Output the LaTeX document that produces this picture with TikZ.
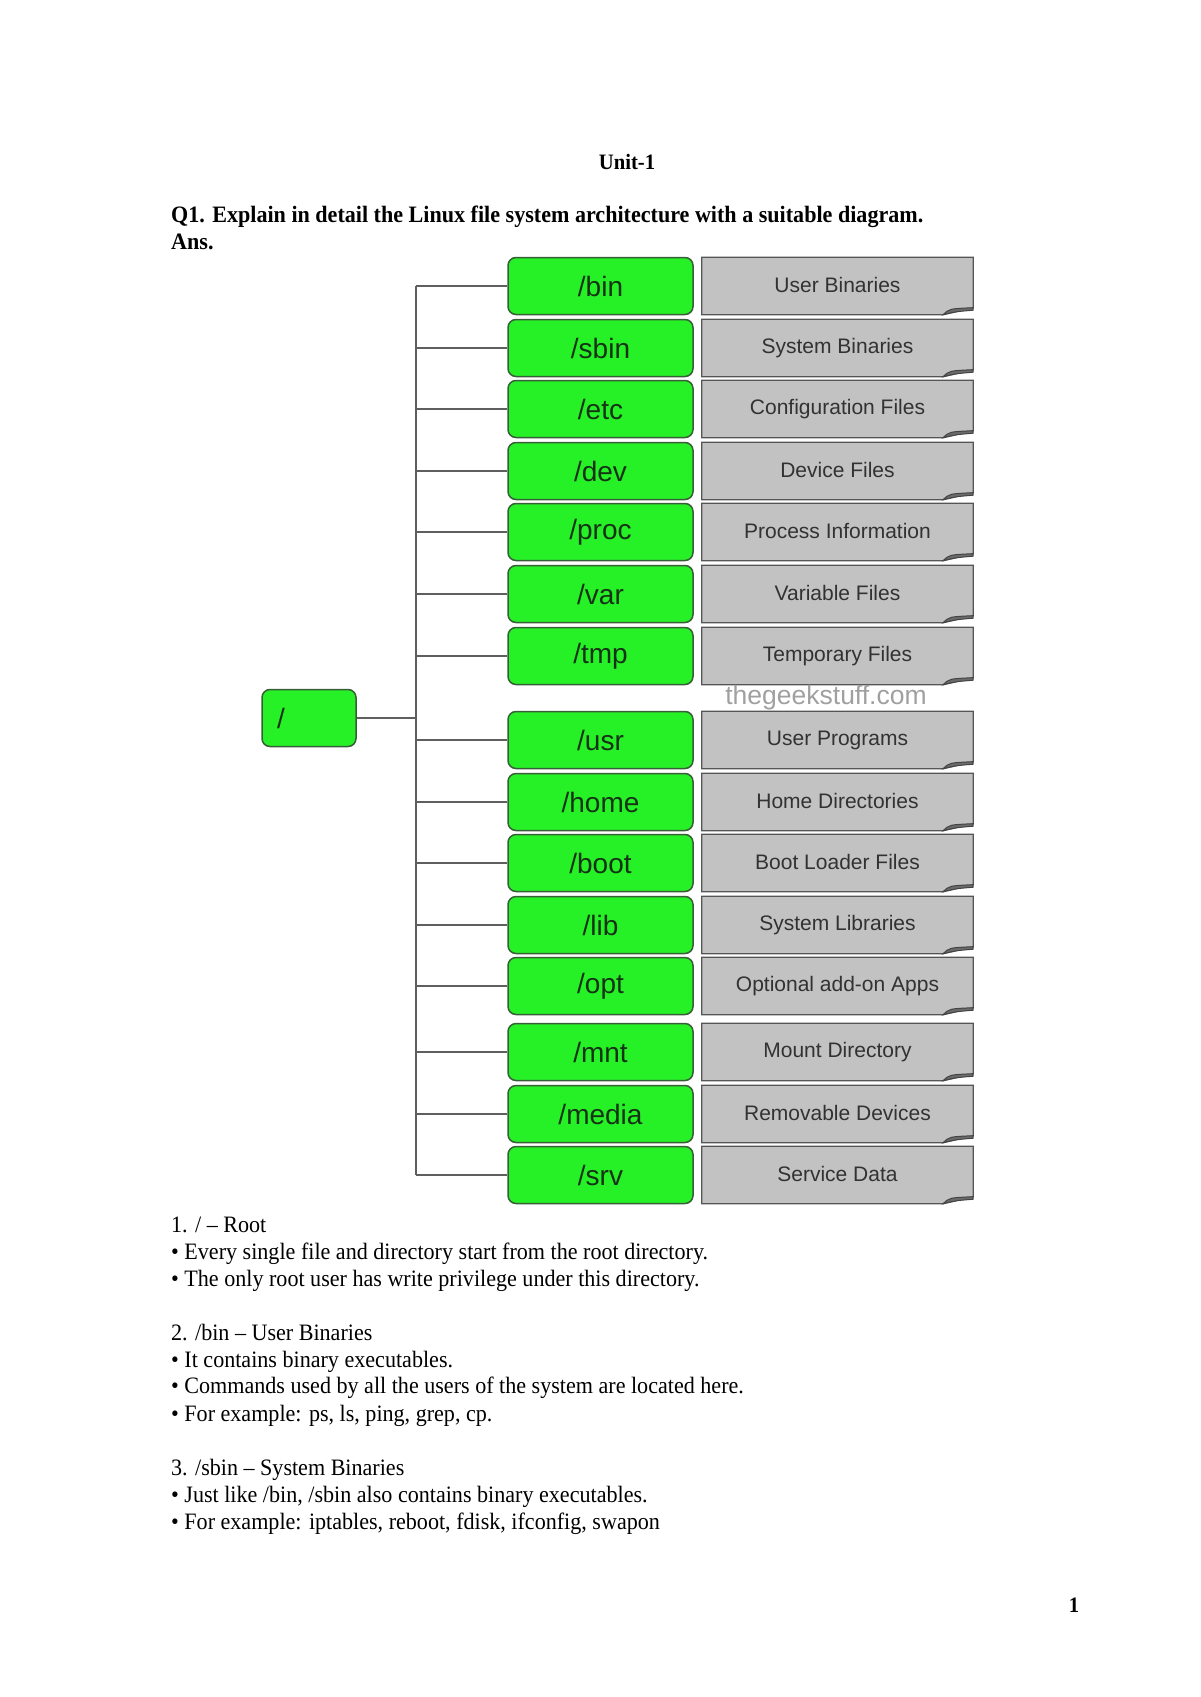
\documentclass[tikz,border=0pt]{standalone}
\usepackage{fontspec}
\setmainfont{Liberation Serif}
\newfontfamily\bodyfont[FakeStretch=0.94]{Liberation Serif}
\newfontfamily\sansf{Liberation Sans}
\usetikzlibrary{backgrounds}
\definecolor{dirgreen}{RGB}{38,240,38}
\definecolor{dirborder}{RGB}{55,95,55}
\definecolor{dirtext}{RGB}{22,50,22}
\definecolor{descfill}{RGB}{194,194,194}
\definecolor{descborder}{RGB}{85,85,85}
\definecolor{desctext}{RGB}{50,50,50}
\definecolor{connc}{RGB}{95,95,95}
\definecolor{markc}{RGB}{160,160,160}
\begin{document}
\begin{tikzpicture}[x=1pt,y=-1pt,
  dirbox/.style={draw=dirborder, fill=dirgreen, rounded corners=8pt, line width=1.5pt,
    minimum width=185pt, minimum height=57pt, inner sep=0pt,
    font=\sansf\fontsize{28}{28}\selectfont, text=dirtext},
  descbox/.style={minimum width=271pt, minimum height=57pt, inner sep=0pt,
    font=\sansf\fontsize{21}{21}\selectfont, text=desctext},
  conn/.style={draw=connc, line width=2pt},
  bodytext/.style={anchor=base west, inner sep=0pt, font=\bodyfont\fontsize{23.5}{23.5}\selectfont},
  headtext/.style={anchor=base west, inner sep=0pt, font=\bodyfont\bfseries\fontsize{23.5}{23.5}\selectfont}]
\useasboundingbox (0,0) rectangle (1200,1697);

% headings
\node[inner sep=0pt, anchor=base, font=\bodyfont\bfseries\fontsize{22}{22}\selectfont] (unit) at (627,169) {Unit-1};
\node[headtext] (q1) at (171,222) {Q1. Explain in detail the Linux file system architecture with a suitable diagram.};
\node[headtext] (ans) at (171,249) {Ans.};

% root
\node[dirbox, minimum width=94pt, text width=64pt, align=left, inner xsep=15pt] (root) at (309,718) {/};
\coordinate (trunk) at (416,718);

% directories and descriptions
\foreach \n/\desc/\y in {bin/User Binaries/286, sbin/System Binaries/348,
  etc/Configuration Files/409, dev/Device Files/471, proc/Process Information/532,
  var/Variable Files/594, tmp/Temporary Files/656, usr/User Programs/740,
  home/Home Directories/802, boot/Boot Loader Files/863, lib/System Libraries/925,
  opt/Optional add-on Apps/986, mnt/Mount Directory/1052, media/Removable Devices/1114,
  srv/Service Data/1175}{
  \node[dirbox] (\n) at (600.5,\y) {/\n};
  \node[descbox] (d-\n) at (837.5,\y) {\raisebox{1.5pt}{\desc}};
  \begin{scope}[on background layer]
    \filldraw[fill=descfill, draw=descborder, line width=1.3pt]
      (d-\n.north west) -- (d-\n.north east) -- ([yshift=7pt]d-\n.south east)
      -- ([xshift=-30pt]d-\n.south east) -- (d-\n.south west) -- cycle;
  \end{scope}
  \filldraw[draw=descborder!80!black, fill=descfill!55!black, line width=1pt]
    ([xshift=-30pt]d-\n.south east) .. controls ([xshift=-24pt,yshift=6pt]d-\n.south east) ..
    ([yshift=7pt]d-\n.south east) -- ([yshift=4.5pt]d-\n.south east)
    .. controls ([xshift=-18pt,yshift=3pt]d-\n.south east) .. ([xshift=-30pt]d-\n.south east) -- cycle;
  \draw[conn] (\n.west) -- (\n.west -| trunk);
}

\draw[conn] (bin.west -| trunk) -- (srv.west -| trunk);
\draw[conn] (root.east) -- (trunk);

\node[inner sep=0pt, text=markc, font=\sansf\fontsize{26.5}{26.5}\selectfont] (mark) at (826,698) {thegeekstuff.com};

% body text
\node[bodytext] (t1) at (171,1232) {1. / – Root};
\node[bodytext] (t2) at (171,1259) {• Every single file and directory start from the root directory.};
\node[bodytext] (t3) at (171,1286) {• The only root user has write privilege under this directory.};
\node[bodytext] (t4) at (171,1340) {2. /bin – User Binaries};
\node[bodytext] (t5) at (171,1367) {• It contains binary executables.};
\node[bodytext] (t6) at (171,1393) {• Commands used by all the users of the system are located here.};
\node[bodytext] (t7) at (171,1421) {• For example: ps, ls, ping, grep, cp.};
\node[bodytext] (t8) at (171,1475) {3. /sbin – System Binaries};
\node[bodytext] (t9) at (171,1502) {• Just like /bin, /sbin also contains binary executables.};
\node[bodytext] (t10) at (171,1529) {• For example: iptables, reboot, fdisk, ifconfig, swapon};

\node[inner sep=0pt, anchor=base, font=\bodyfont\bfseries\fontsize{22}{22}\selectfont] (pnum) at (1074,1612) {1};
\end{tikzpicture}
\end{document}
